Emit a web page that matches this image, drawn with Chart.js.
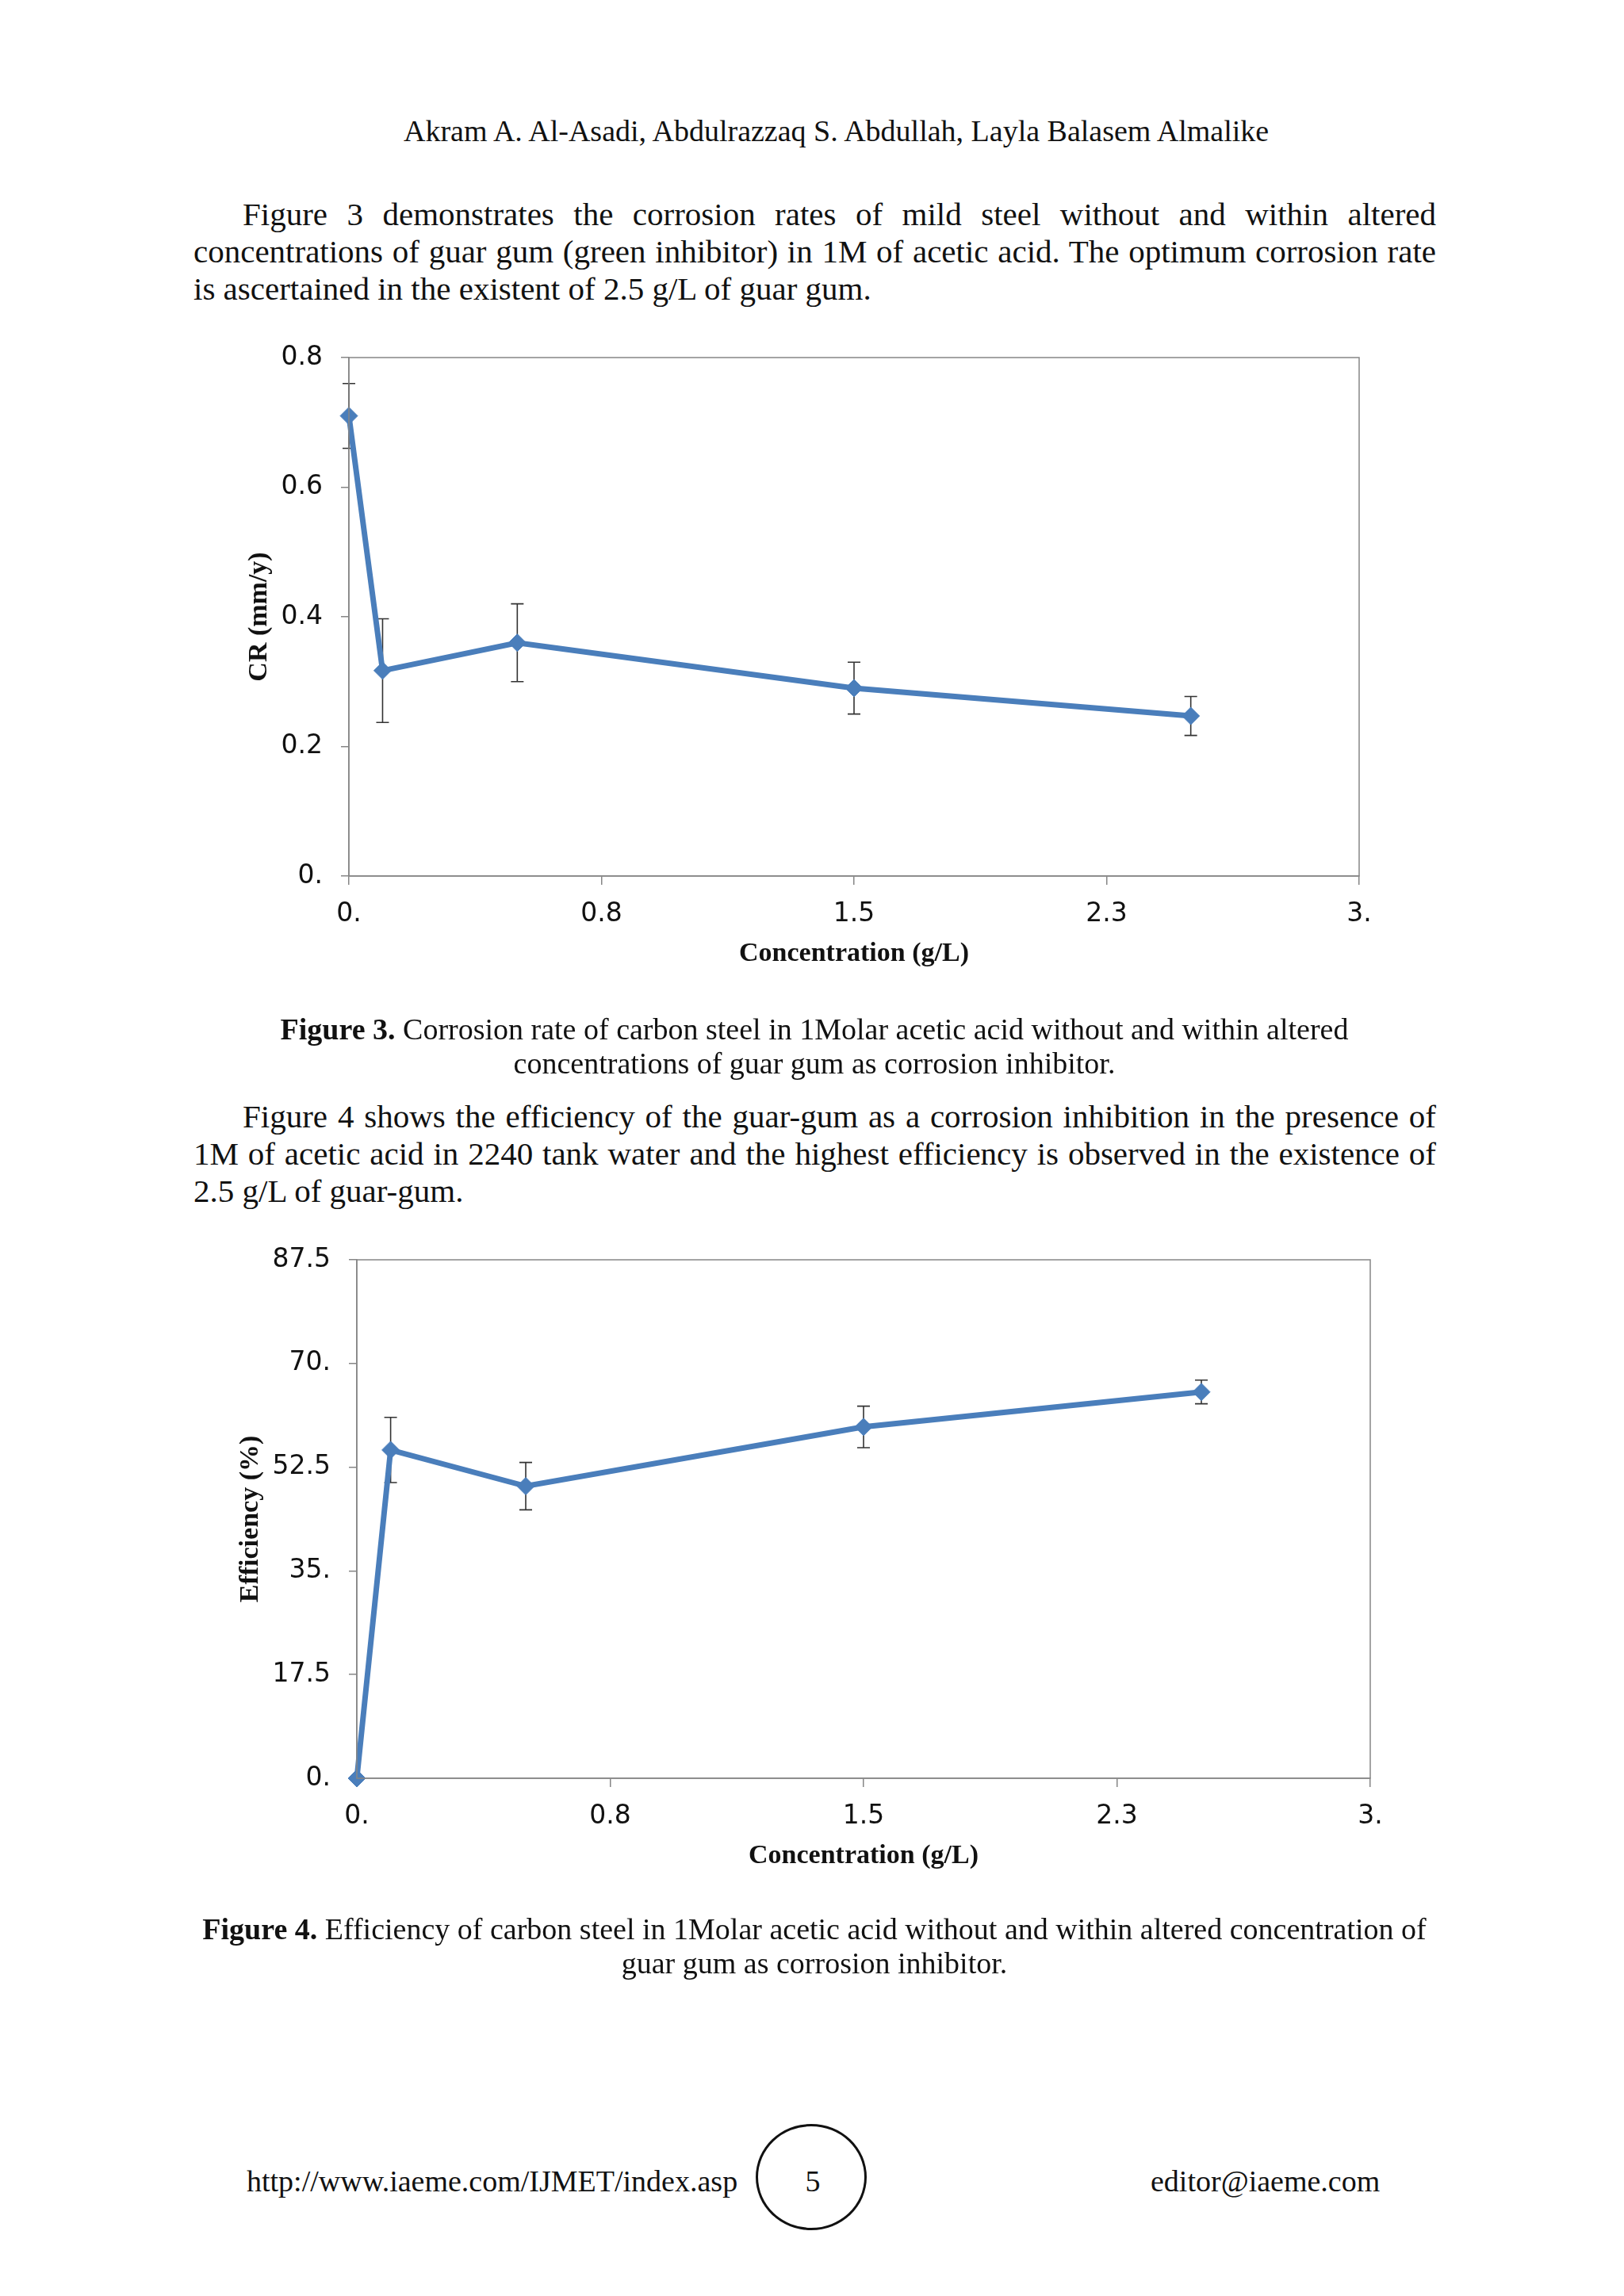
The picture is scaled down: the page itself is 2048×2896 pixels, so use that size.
<!DOCTYPE html>
<html>
<head>
<meta charset="utf-8">
<script src="https://cdn.jsdelivr.net/npm/chart.js@4.4.1/dist/chart.umd.min.js"></script>
<style>
  html, body { margin: 0; padding: 0; background: #fff; }
  body { width: 2048px; height: 2896px; position: relative; overflow: hidden;
         font-family: "Liberation Serif", "Times New Roman", serif; color: #111; }
  .abs { position: absolute; }
  .para { left: 244px; width: 1567px; font-size: 41px; line-height: 47px; }
  .para div { text-align: justify; text-align-last: justify; }
  .para div.last { text-align-last: left; }
  .para div.first { text-indent: 62px; }
  .cap { left: 200px; width: 1654px; font-size: 38px; line-height: 43px; text-align: center; }
  .foot { font-size: 38px; line-height: 43px; white-space: nowrap; }
  .pagecircle { left: 953px; top: 2679px; width: 140px; height: 134px; border: 3px solid #111;
                border-radius: 50%; box-sizing: border-box; }
</style>
</head>
<body>

<div class="abs foot" style="left:509px; top:144px;">Akram A. Al-Asadi, Abdulrazzaq S. Abdullah, Layla Balasem Almalike</div>

<div class="abs para" style="top:247px;">
  <div class="first">Figure 3 demonstrates the corrosion rates of mild steel without and within altered</div>
  <div>concentrations of guar gum (green inhibitor) in 1M of acetic acid. The optimum corrosion rate</div>
  <div class="last">is ascertained in the existent of 2.5 g/L of guar gum.</div>
</div>

<div class="abs" style="left:240px; top:400px; width:1540px; height:880px;">
  <canvas id="crChart" width="1540" height="880"></canvas>
</div>

<div class="abs cap" style="top:1277px;">
  <b>Figure 3.</b> Corrosion rate of carbon steel in 1Molar acetic acid without and within altered<br>
  concentrations of guar gum as corrosion inhibitor.
</div>

<div class="abs para" style="top:1385px;">
  <div class="first">Figure 4 shows the efficiency of the guar-gum as a corrosion inhibition in the presence of</div>
  <div>1M of acetic acid in 2240 tank water and the highest efficiency is observed in the existence of</div>
  <div class="last">2.5 g/L of guar-gum.</div>
</div>

<div class="abs" style="left:250px; top:1540px; width:1540px; height:880px;">
  <canvas id="effChart" width="1540" height="880"></canvas>
</div>

<div class="abs cap" style="top:2412px;">
  <b>Figure 4.</b> Efficiency of carbon steel in 1Molar acetic acid without and within altered concentration of<br>
  guar gum as corrosion inhibitor.
</div>

<div class="abs foot" style="left:311px; top:2730px;">http://www.iaeme.com/IJMET/index.asp</div>
<div class="abs pagecircle"></div>
<div class="abs foot" style="left:1000px; width:50px; text-align:center; top:2730px;">5</div>
<div class="abs foot" style="left:1451px; top:2730px;">editor@iaeme.com</div>

<script>
// values
const concentration = [0, 0.1, 0.5, 1.5, 2.5];
const corrosionRate = [0.71, 0.317, 0.36, 0.29, 0.247];
const corrosionErr = [0.05, 0.08, 0.06, 0.04, 0.03];
const efficiency = [0, 55.4, 49.3, 59.3, 65.2];
const efficiencyErr = [0, 5.5, 4, 3.5, 2];

const xTickLabels = ['0.', '0.8', '1.5', '2.3', '3.'];
const crTickLabels = ['0.', '0.2', '0.4', '0.6', '0.8'];
const effTickLabels = ['0.', '17.5', '35.', '52.5', '70.', '87.5'];

const lineBlue = '#4a7ebb';
const axisGray = '#868686';

// error bars, drawn under the line
const errorBars = {
    id: 'errorBars',
    beforeDatasetsDraw(chart, args, opts) {
        const ctx = chart.ctx;
        const xs = chart.scales.x;
        const ys = chart.scales.y;
        const ds = chart.data.datasets[0];
        ctx.save();
        ctx.strokeStyle = '#333';
        ctx.lineWidth = 1.6;
        ds.data.forEach((p, i) => {
            const e = opts.errors[i];
            if (!e) return;
            const px = xs.getPixelForValue(p.x);
            const top = ys.getPixelForValue(p.y + e);
            const bot = ys.getPixelForValue(p.y - e);
            ctx.beginPath();
            ctx.moveTo(px, top); ctx.lineTo(px, bot);
            ctx.moveTo(px - 8, top); ctx.lineTo(px + 8, top);
            ctx.moveTo(px - 8, bot); ctx.lineTo(px + 8, bot);
            ctx.stroke();
        });
        ctx.restore();
    }
};

const plotBox = {
    id: 'plotBox',
    afterDraw(chart) {
        const {ctx, chartArea: a} = chart;
        ctx.save();
        ctx.strokeStyle = axisGray;
        ctx.lineWidth = 1.5;
        ctx.strokeRect(a.left, a.top, a.right - a.left, a.bottom - a.top);
        ctx.restore();
    }
};

const makeChart = (canvasId, yValues, yErrors, yMax, yStep, yLabels, yTitle, layout) => {
    const points = concentration.map((c, i) => ({x: c, y: yValues[i]}));
    const ctx = document.getElementById(canvasId).getContext('2d');
    return new Chart(ctx, {
        type: 'line',
        data: {
            datasets: [{
                data: points,
                borderColor: lineBlue,
                backgroundColor: lineBlue,
                borderWidth: 7,
                pointStyle: 'rectRot',
                pointRadius: 11,
                pointBorderWidth: 1,
                tension: 0,
                clip: false
            }]
        },
        options: {
            responsive: false,
            animation: false,
            layout: { padding: { top: layout.top, right: layout.right, left: 0, bottom: 0 } },
            plugins: {
                legend: { display: false },
                tooltip: { enabled: false },
                errorBars: { errors: yErrors }
            },
            scales: {
                x: {
                    type: 'linear',
                    min: 0,
                    max: 3,
                    afterFit: (s) => { s.height = layout.xHeight; },
                    ticks: {
                        stepSize: 0.75,
                        padding: 18,
                        color: '#111',
                        font: { family: 'DejaVu Sans', size: 33 },
                        maxRotation: 0,
                        callback: (v, i) => xTickLabels[i]
                    },
                    grid: { drawOnChartArea: false, tickLength: 11, color: axisGray, lineWidth: 1.5 },
                    border: { color: axisGray, width: 1.5 },
                    title: {
                        display: true,
                        text: 'Concentration (g/L)',
                        color: '#111',
                        font: { family: 'Liberation Serif', size: 34, weight: 'bold' },
                        padding: { top: 0, bottom: layout.xTitlePad }
                    }
                },
                y: {
                    min: 0,
                    max: yMax,
                    afterFit: (s) => { s.width = 200; },
                    ticks: {
                        stepSize: yStep,
                        padding: 23,
                        color: '#111',
                        font: { family: 'DejaVu Sans', size: 33 },
                        callback: (v, i) => yLabels[i]
                    },
                    grid: { drawOnChartArea: false, tickLength: 10, color: axisGray, lineWidth: 1.5 },
                    border: { color: axisGray, width: 1.5 },
                    title: {
                        display: true,
                        text: yTitle,
                        color: '#111',
                        font: { family: 'Liberation Serif', size: 34, weight: 'bold' },
                        padding: { top: layout.yTitlePad, bottom: 0 }
                    }
                }
            }
        },
        plugins: [errorBars, plotBox]
    });
};

makeChart('crChart', corrosionRate, corrosionErr, 0.8, 0.2, crTickLabels, 'CR (mm/y)',
    { top: 51, right: 66, xHeight: 175, xTitlePad: 56, yTitlePad: 67 });
makeChart('effChart', efficiency, efficiencyErr, 87.5, 17.5, effTickLabels, 'Efficiency (%)',
    { top: 49, right: 62, xHeight: 177, xTitlePad: 58, yTitlePad: 46 });
</script>
</body>
</html>
